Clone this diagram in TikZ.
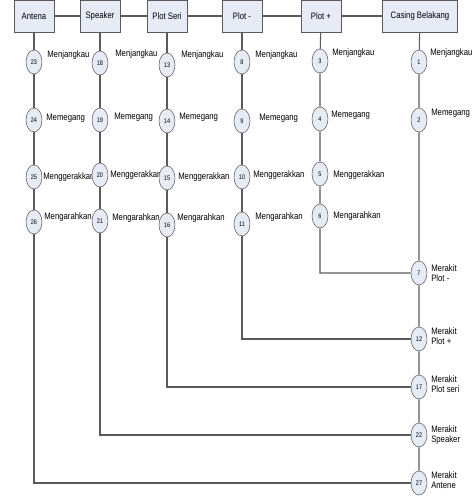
\documentclass[tikz,border=0pt]{standalone}
\usepackage{fontspec}
\setmainfont{Liberation Sans}[FakeStretch=0.83]
\usetikzlibrary{shapes.geometric}
\definecolor{boxfill}{HTML}{E6EBF5}
\definecolor{edge}{HTML}{5A5A5A}
\tikzstyle{part} = [draw=edge, fill=boxfill, minimum width=30pt, minimum height=24pt, inner sep=1pt, font=\fontsize{7}{8}\selectfont]
\tikzstyle{act} = [ellipse, draw=edge, fill=boxfill, minimum width=12pt, minimum height=18pt, inner sep=0pt, font=\fontsize{5}{6}\selectfont]
\tikzstyle{lbl} = [anchor=west, inner sep=0pt, font=\fontsize{7}{8}\selectfont, align=left]
\tikzstyle{link} = [draw=edge, line width=0.8pt]

\begin{document}
\begin{tikzpicture}[x=0.75pt, y=-0.75pt]
      \useasboundingbox (0,0) rectangle (474,500);
      % bagian
      \node[part] (ant) at (34,16) {Antena};
      \node[part] (spk) at (100,16) {Speaker};
      \node[part] (ser) at (167,16) {Plot Seri};
      \node[part] (min) at (242,16) {Plot -};
      \node[part] (plu) at (321,16) {Plot +};
      \node[part, minimum width=56pt] (cas) at (420,16) {Casing Belakang};
      \draw[link] (ant) -- (spk) -- (ser) -- (min) -- (plu) -- (cas);
      % antena
      \node[act] (a23) at (34,62) {23};
      \node[act] (a24) at (34,120) {24};
      \node[act] (a25) at (34,177) {25};
      \node[act] (a26) at (34,222) {26};
      \node[lbl] (l23) at (47,55) {Menjangkau};
      \node[lbl] (l24) at (46,118) {Memegang};
      \node[lbl] (l25) at (43,177) {Menggerakkan};
      \node[lbl] (l26) at (44,217) {Mengarahkan};
      % speaker
      \node[act] (a18) at (100,63) {18};
      \node[act] (a19) at (100,120) {19};
      \node[act] (a20) at (100,175) {20};
      \node[act] (a21) at (100,221) {21};
      \node[lbl] (l18) at (115,54) {Menjangkau};
      \node[lbl] (l19) at (114,117) {Memegang};
      \node[lbl] (l20) at (110,175) {Menggerakkan};
      \node[lbl] (l21) at (112,218) {Mengarahkan};
      % plot seri
      \node[act] (a13) at (167,65) {13};
      \node[act] (a14) at (167,121) {14};
      \node[act] (a15) at (167,178) {15};
      \node[act] (a16) at (167,225) {16};
      \node[lbl] (l13) at (181,55) {Menjangkau};
      \node[lbl] (l14) at (179,117) {Memegang};
      \node[lbl] (l15) at (178,177) {Menggerakkan};
      \node[lbl] (l16) at (177,218) {Mengarahkan};
      % plot -
      \node[act] (a8) at (242,62) {8};
      \node[act] (a9) at (242,121) {9};
      \node[act] (a10) at (242,177) {10};
      \node[act] (a11) at (242,224) {11};
      \node[lbl] (l8) at (255,55) {Menjangkau};
      \node[lbl] (l9) at (259,118) {Memegang};
      \node[lbl] (l10) at (253,175) {Menggerakkan};
      \node[lbl] (l11) at (255,217) {Mengarahkan};
      % plot +
      \node[act] (a3) at (320,61) {3};
      \node[act] (a4) at (320,119) {4};
      \node[act] (a5) at (320,174) {5};
      \node[act] (a6) at (320,216) {6};
      \node[lbl] (l3) at (332,53) {Menjangkau};
      \node[lbl] (l4) at (331,115) {Memegang};
      \node[lbl] (l5) at (333,175) {Menggerakkan};
      \node[lbl] (l6) at (333,216) {Mengarahkan};
      % casing belakang
      \node[act] (a1) at (419,62) {1};
      \node[act] (a2) at (419,120) {2};
      \node[act] (a7) at (419,273) {7};
      \node[act] (a12) at (419,339) {12};
      \node[act] (a17) at (419,387) {17};
      \node[act] (a22) at (419,435) {22};
      \node[act] (a27) at (419,483) {27};
      \node[lbl] (l1) at (430,53) {Menjangkau};
      \node[lbl] (l2) at (431,113) {Memegang};
      \node[lbl] (l7) at (431,273) {Merakit\\Plot -};
      \node[lbl] (l12) at (431,336) {Merakit\\Plot +};
      \node[lbl] (l17) at (431,384) {Merakit\\Plot seri};
      \node[lbl] (l22) at (431,435) {Merakit\\Speaker};
      \node[lbl] (l27) at (431,480) {Merakit\\Antene};
      % garis
      \draw[link] (ant) -- (a23) -- (a24) -- (a25) -- (a26) |- (a27);
      \draw[link] (spk) -- (a18) -- (a19) -- (a20) -- (a21) |- (a22);
      \draw[link] (ser) -- (a13) -- (a14) -- (a15) -- (a16) |- (a17);
      \draw[link] (min) -- (a8) -- (a9) -- (a10) -- (a11) |- (a12);
      \draw[link] (plu) -- (a3) -- (a4) -- (a5) -- (a6) |- (a7);
      \draw[link] (cas) -- (a1) -- (a2) -- (a7) -- (a12) -- (a17) -- (a22) -- (a27);
\end{tikzpicture}
\end{document}
